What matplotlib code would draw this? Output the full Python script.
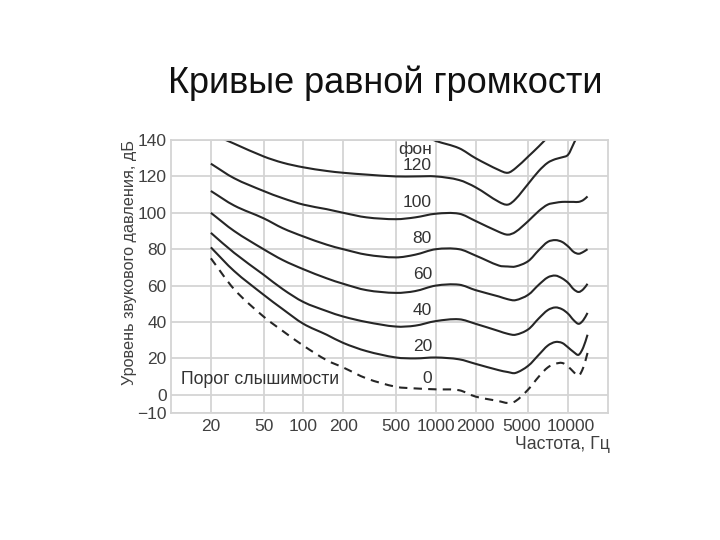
import numpy as np
import matplotlib
matplotlib.use("Agg")
import matplotlib.pyplot as plt
from matplotlib.path import Path
from matplotlib.patches import PathPatch
import matplotlib.transforms as mtransforms

plt.rcParams['font.family'] = ['Liberation Sans', 'DejaVu Sans']

# common frequency grid (Hz) for the labelled curves
freqs = [20, 30, 50, 70, 100, 150, 200, 300, 500, 700, 1000, 1500, 2000, 3000,
         3500, 4000, 5000, 6000, 7000, 8000, 9000, 10000, 11000, 12000, 13000, 14000]

# sound pressure level (dB), per loudness level (phon)
phon_0 = [75, 58, 43, 35, 27, 19, 15, 9, 4.4, 3.5, 3, 2.5, -1, -3.5,
          -4.5, -3.5, 3, 10, 15, 17, 17.5, 15.5, 12.5, 10.5, 15, 23]
phon_20 = [81, 68, 55, 47, 39, 33, 28.5, 24, 20.5, 20, 20.5, 19.5, 17, 13.5,
           12.5, 12, 16, 22, 27, 29, 28.5, 26, 23.5, 22, 26, 33]
phon_40 = [89, 78, 66, 58, 51, 46, 43, 40, 37.5, 38, 40.5, 41.5, 39, 35,
           33.5, 33, 36, 42, 46.5, 48, 47, 44.5, 41, 39, 41, 45]
phon_60 = [100, 90, 80, 74, 69, 64, 61, 57.5, 56, 57, 60, 60.5, 57.5, 54,
           52.5, 52, 55, 60.5, 64.5, 65.5, 64, 61.5, 58, 56.5, 58, 61]
phon_80 = [112, 104, 97, 91.5, 87, 82.5, 80, 77, 75.5, 77, 80, 80, 76.5, 71,
           70.5, 70.5, 73.5, 79.5, 84, 85, 84, 81.5, 78.5, 77.5, 78.5, 80]
phon_100 = [127, 119, 112, 108, 104.5, 102, 100, 97.5, 96.5, 97.5, 99.5, 99.5, 95.5, 89.5,
            88, 89.5, 95.5, 101, 104.5, 105.5, 106, 106, 106, 106, 107, 109]

# the 120 phon curve starts at 25 Hz and leaves the chart above 11 kHz
freqs_120 = [25, 30, 50, 70, 100, 150, 200, 300, 500, 700, 1000, 1500, 2000, 3000,
             3500, 4000, 5000, 6000, 7000, 8000, 9000, 10000, 11000, 11500]
phon_120 = [140.5, 138, 131, 127.5, 125, 123, 122, 121, 120, 120, 120, 118, 114, 106,
            104.5, 107.5, 116, 123, 127.5, 129.5, 130.5, 132, 138, 141]

# top (unlabelled) curve, only the dip is visible
freqs_top = [900, 1000, 1500, 2000, 3000, 3500, 4000, 5000, 6000, 7000]
level_top = [141, 139.5, 135.5, 130, 123.5, 122, 124.5, 131, 136.5, 141.5]

curve_levels = [0, 20, 40, 60, 80, 100, 120]
curve_values = [phon_0, phon_20, phon_40, phon_60, phon_80, phon_100, phon_120]
curve_freqs = [freqs, freqs, freqs, freqs, freqs, freqs, freqs_120]

x_ticks = [20, 50, 100, 200, 500, 1000, 2000, 5000, 10000]
y_ticks = [-10, 0, 20, 40, 60, 80, 100, 120, 140]


def smooth_path(fr, vals):
    # cubic Bezier through the read points, tangents taken in log-frequency
    lx = np.log10(fr)
    y = np.asarray(vals, dtype=float)
    n = len(lx)
    slope = np.empty(n)
    slope[0] = (y[1] - y[0]) / (lx[1] - lx[0])
    slope[-1] = (y[-1] - y[-2]) / (lx[-1] - lx[-2])
    for i in range(1, n - 1):
        slope[i] = (y[i + 1] - y[i - 1]) / (lx[i + 1] - lx[i - 1])
    verts = [(fr[0], y[0])]
    codes = [Path.MOVETO]
    for i in range(n - 1):
        d = (lx[i + 1] - lx[i]) / 3
        verts.append((10 ** (lx[i] + d), y[i] + slope[i] * d))
        verts.append((10 ** (lx[i + 1] - d), y[i + 1] - slope[i + 1] * d))
        verts.append((fr[i + 1], y[i + 1]))
        codes += [Path.CURVE4] * 3
    return Path(verts, codes)


fig = plt.figure(figsize=(7.2, 5.4), dpi=100)
ax = fig.add_axes([0.2375, 0.2352, 0.607, 0.5055])

ax.set_xscale('log')
ax.set_xlim(10, 20000)
ax.set_ylim(-10, 140)

grid_col = '#d4d4d4'
ax.set_xticks(x_ticks)
ax.set_xticklabels([str(v) for v in x_ticks])
ax.xaxis.set_minor_locator(matplotlib.ticker.NullLocator())
ax.set_yticks(y_ticks)
ax.grid(True, color=grid_col, linewidth=1.3)
ax.set_axisbelow(True)
for s in ax.spines.values():
    s.set_color(grid_col)
    s.set_linewidth(1.3)
ax.tick_params(length=0, labelsize=12.5, colors='#404040')
ax.tick_params(axis='y', pad=3)
ax.tick_params(axis='x', pad=4)

# the last two frequency labels are set a little apart in the original
for lab in ax.get_xticklabels():
    if lab.get_text() == '5000':
        lab.set_transform(lab.get_transform() + mtransforms.ScaledTranslation(-5 / 72, 0, fig.dpi_scale_trans))
    if lab.get_text() == '10000':
        lab.set_transform(lab.get_transform() + mtransforms.ScaledTranslation(2 / 72, 0, fig.dpi_scale_trans))

line_col = '#262626'
for lvl, fr, vals in zip(curve_levels, curve_freqs, curve_values):
    style = (0, (4, 3)) if lvl == 0 else '-'
    ax.add_patch(PathPatch(smooth_path(fr, vals), fill=False, edgecolor=line_col,
                           linewidth=1.5, linestyle=style))
    # level label just above the curve at 1 kHz
    y_at_1k = np.interp(np.log10(1000), np.log10(fr), vals)
    ax.text(935, y_at_1k + 6, str(lvl), ha='right', va='center',
            fontsize=12.5, color='#333333')
ax.add_patch(PathPatch(smooth_path(freqs_top, level_top), fill=False,
                       edgecolor=line_col, linewidth=1.5))

ax.text(935, 135, 'фон', ha='right', va='center', fontsize=12.5, color='#333333')
ax.text(12, 8.3, 'Порог слышимости', ha='left', va='center', fontsize=12.7, color='#333333')

ax.set_ylabel('Уровень звукового давления, дБ', fontsize=11.7, color='#404040')
ax.yaxis.set_label_coords(-0.078, 0.553)
ax.set_xlabel('Частота, Гц', fontsize=12.7, color='#404040', ha='right')
ax.xaxis.set_label_coords(1.005, -0.084)

fig.text(0.535, 1 - 93 / 540, 'Кривые равной громкости', fontsize=26,
         ha='center', va='baseline', color='#111111')

fig.savefig('out.png', dpi=100)
